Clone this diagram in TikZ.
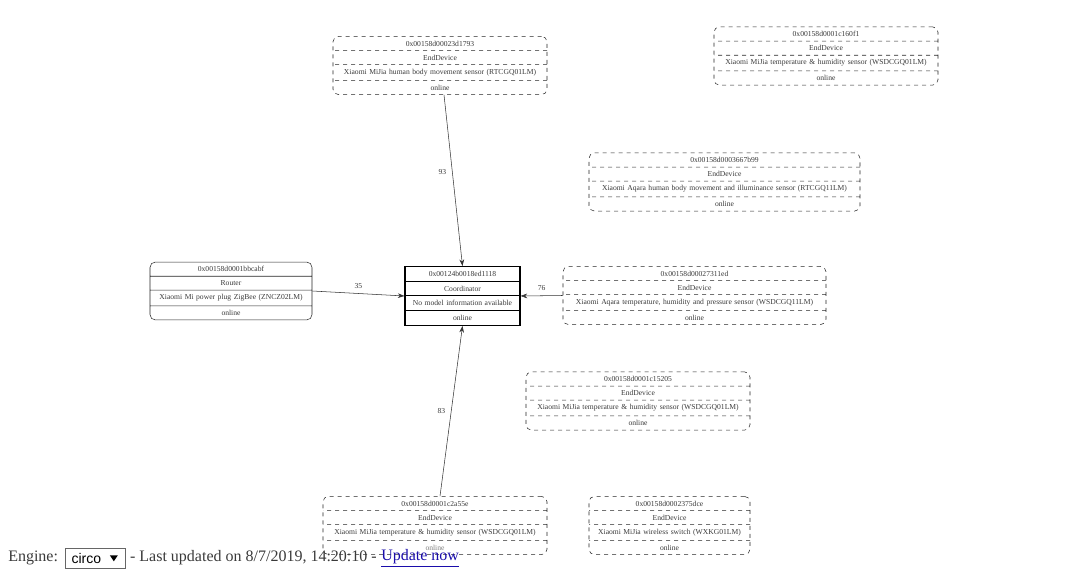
\documentclass[tikz,border=0pt]{standalone}
\usepackage{fontspec}
\setmainfont{Liberation Serif}
\newfontfamily\uifont{Liberation Sans}
\usetikzlibrary{shapes.multipart, arrows.meta, positioning}
\definecolor{inkgray}{HTML}{3A3A3A}
\definecolor{linkblue}{HTML}{1A0DAB}
\begin{document}
\begin{tikzpicture}[x=0.75pt, y=-0.75pt]
	\tikzset{
		devbox/.style={rectangle split, rectangle split parts=4, draw=black!85, dashed, rounded corners=4pt,
			text width=#1*0.75pt, align=center, inner xsep=0pt, inner ysep=3.1pt, text=inkgray,
			font=\fontsize{5.7}{6.4}\selectfont},
		coordbox/.style={rectangle split, rectangle split parts=4, draw=black, thick,
			text width=#1*0.75pt, align=center, inner xsep=0pt, inner ysep=3.1pt, text=inkgray,
			font=\fontsize{5.7}{6.4}\selectfont},
		link/.style={draw=black!80, -{Stealth[length=5pt, width=3.5pt]}},
		lqi/.style={font=\fontsize{5.7}{6}\selectfont, text=inkgray},
		footer/.style={text=inkgray, font=\fontsize{12}{14}\selectfont, inner sep=0pt}
	}
	\useasboundingbox (0,0) rectangle (1082,573);
	% nodes of the mesh
	\node[coordbox=115] (coord) at (462.5,296) {0x00124b0018ed1118\nodepart{two}Coordinator\nodepart{three}No model information available\nodepart{four}online};
	\node[devbox=214] (mijia1) at (440,65.5) {0x00158d00023d1793\nodepart{two}EndDevice\nodepart{three}Xiaomi MiJia human body movement sensor (RTCGQ01LM)\nodepart{four}online};
	\node[devbox=224] (temp1) at (826,56) {0x00158d0001c160f1\nodepart{two}EndDevice\nodepart{three}Xiaomi MiJia temperature \& humidity sensor (WSDCGQ01LM)\nodepart{four}online};
	\node[devbox=271] (aqara1) at (724.5,182) {0x00158d0003667b99\nodepart{two}EndDevice\nodepart{three}Xiaomi Aqara human body movement and illuminance sensor (RTCGQ11LM)\nodepart{four}online};
	\node[devbox=162, solid] (plug) at (231,291) {0x00158d0001bbcabf\nodepart{two}Router\nodepart{three}Xiaomi Mi power plug ZigBee (ZNCZ02LM)\nodepart{four}online};
	\node[devbox=263] (aqara2) at (694.5,295.5) {0x00158d00027311ed\nodepart{two}EndDevice\nodepart{three}Xiaomi Aqara temperature, humidity and pressure sensor (WSDCGQ11LM)\nodepart{four}online};
	\node[devbox=224] (temp2) at (638,401) {0x00158d0001c15205\nodepart{two}EndDevice\nodepart{three}Xiaomi MiJia temperature \& humidity sensor (WSDCGQ01LM)\nodepart{four}online};
	\node[devbox=224] (temp3) at (435,525.5) {0x00158d0001c2a55e\nodepart{two}EndDevice\nodepart{three}Xiaomi MiJia temperature \& humidity sensor (WSDCGQ01LM)\nodepart{four}\textcolor{gray}{online}};
	\node[devbox=161] (switch) at (669.5,525.5) {0x00158d0002375dce\nodepart{two}EndDevice\nodepart{three}Xiaomi MiJia wireless switch (WXKG01LM)\nodepart{four}online};
	% links
	\draw[link] (mijia1.south) ++(4,0) coordinate (m1) (m1) -- node[lqi, left=1pt, pos=0.45] {93} (coord.north);
	\draw[link] (plug.east) -- node[lqi, above=0pt] {35} (coord.west);
	\draw[link] (aqara2.west) -- node[lqi, above=0pt] {76} (coord.east);
	\draw[link] (temp3.north) ++(5,0) coordinate (t3) (t3) -- node[lqi, left=1pt, pos=0.5] {83} (coord.south);
	% footer
	\node[footer, anchor=west] (engine) at (8,558) {Engine:};
	\node[draw=black!60, right=7*0.75pt of engine, minimum width=60*0.75pt, minimum height=20*0.75pt, inner sep=0pt] (select) {};
	\node[anchor=west, font=\uifont\fontsize{10.5}{12}\selectfont, inner sep=0pt] (circo) at ([xshift=4.5pt]select.west) {circo};
	\fill ([xshift=-12pt,yshift=2pt]select.east) -- ([xshift=-6pt,yshift=2pt]select.east) -- ([xshift=-9pt,yshift=-2.5pt]select.east) -- cycle;
	\node[footer, right=4*0.75pt of select] (updated) {- Last updated on 8/7/2019, 14:20:10 -};
	\node[footer, right=3pt of updated, text=linkblue] (update) {\underline{Update now}};
\end{tikzpicture}
\end{document}
